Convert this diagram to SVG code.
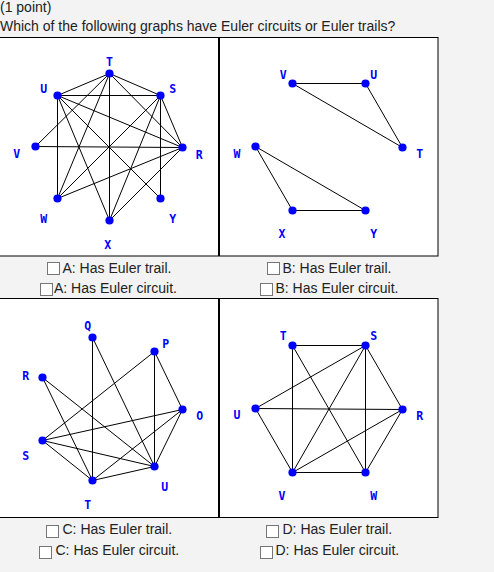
<svg xmlns="http://www.w3.org/2000/svg" width="494" height="572" viewBox="0 0 494 572">
<style>
.panel{fill:#ffffff;stroke:#000000;stroke-width:1}
.t{font-family:"Liberation Sans",Arial,sans-serif;font-size:14px;fill:#222222}
.cb{fill:#ffffff;stroke:#767676;stroke-width:1}
.e line{stroke:#000000;stroke-width:1}
.n circle{fill:#0000ff}
.lb{font-family:"DejaVu Sans Mono",monospace;font-size:11.5px;font-weight:bold;fill:#0000ff;text-anchor:middle}
</style>
<rect x="0" y="0" width="494" height="572" fill="#f3f3f3"/>
<text class="t" x="0" y="12">(1 point)</text>
<text class="t" x="0" y="31">Which of the following graphs have Euler circuits or Euler trails?</text>

<g id="panels">
<rect class="panel" x="-1.5" y="37.5" width="220" height="218.5"/>
<rect class="panel" x="219.5" y="37.5" width="218.5" height="218.5"/>
<rect class="panel" x="-1.5" y="298.5" width="220" height="219"/>
<rect class="panel" x="219.5" y="298.5" width="218.5" height="219"/>
</g>

<g id="checkboxes">
<rect class="cb" x="47.5" y="262.5" width="12" height="12"/><text class="t" x="62.5" y="273">A: Has Euler trail.</text>
<rect class="cb" x="40.5" y="283.5" width="12" height="12"/><text class="t" x="54" y="293">A: Has Euler circuit.</text>
<rect class="cb" x="267.5" y="262.5" width="12" height="12"/><text class="t" x="282.5" y="273">B: Has Euler trail.</text>
<rect class="cb" x="260.5" y="283.5" width="12" height="12"/><text class="t" x="275.5" y="293">B: Has Euler circuit.</text>
<rect class="cb" x="46.5" y="525.5" width="12" height="12"/><text class="t" x="62.5" y="534">C: Has Euler trail.</text>
<rect class="cb" x="39.5" y="546.5" width="12" height="12"/><text class="t" x="55.5" y="555">C: Has Euler circuit.</text>
<rect class="cb" x="266.5" y="525.5" width="12" height="12"/><text class="t" x="282.5" y="534">D: Has Euler trail.</text>
<rect class="cb" x="260.5" y="546.5" width="12" height="12"/><text class="t" x="275.5" y="555">D: Has Euler circuit.</text>
</g>

<g id="connectors" class="e">
<!-- Graph A -->
<line x1="109.5" y1="73.5" x2="57.5" y2="95.5"/>
<line x1="109.5" y1="73.5" x2="160.5" y2="95.5"/>
<line x1="57.5" y1="95.5" x2="160.5" y2="95.5"/>
<line x1="35.5" y1="146.5" x2="182.5" y2="147.5"/>
<line x1="109.5" y1="73.5" x2="109.5" y2="220.5"/>
<line x1="57.5" y1="95.5" x2="57.5" y2="198.5"/>
<line x1="160.5" y1="95.5" x2="160.5" y2="198.5"/>
<line x1="57.5" y1="95.5" x2="182.5" y2="147.5"/>
<line x1="57.5" y1="95.5" x2="160.5" y2="198.5"/>
<line x1="57.5" y1="95.5" x2="109.5" y2="220.5"/>
<line x1="109.5" y1="73.5" x2="35.5" y2="146.5"/>
<line x1="109.5" y1="73.5" x2="57.5" y2="198.5"/>
<line x1="109.5" y1="73.5" x2="182.5" y2="147.5"/>
<line x1="160.5" y1="95.5" x2="57.5" y2="198.5"/>
<line x1="160.5" y1="95.5" x2="109.5" y2="220.5"/>
<line x1="160.5" y1="95.5" x2="182.5" y2="147.5"/>
<line x1="182.5" y1="147.5" x2="57.5" y2="198.5"/>
<line x1="182.5" y1="147.5" x2="109.5" y2="220.5"/>
<!-- Graph B -->
<line x1="292.5" y1="83.5" x2="365.5" y2="83.5"/>
<line x1="292.5" y1="83.5" x2="402.5" y2="147.5"/>
<line x1="365.5" y1="83.5" x2="402.5" y2="147.5"/>
<line x1="255.5" y1="146.5" x2="292.5" y2="210.5"/>
<line x1="255.5" y1="146.5" x2="365.5" y2="210.5"/>
<line x1="292.5" y1="210.5" x2="365.5" y2="210.5"/>
<!-- Graph C -->
<line x1="92.5" y1="337.5" x2="92.5" y2="480.5"/>
<line x1="92.5" y1="337.5" x2="154.5" y2="466.5"/>
<line x1="154.5" y1="351.5" x2="154.5" y2="466.5"/>
<line x1="154.5" y1="351.5" x2="182.5" y2="409.5"/>
<line x1="154.5" y1="351.5" x2="42.5" y2="440.5"/>
<line x1="42.5" y1="377.5" x2="154.5" y2="466.5"/>
<line x1="42.5" y1="377.5" x2="92.5" y2="480.5"/>
<line x1="42.5" y1="440.5" x2="182.5" y2="409.5"/>
<line x1="42.5" y1="440.5" x2="154.5" y2="466.5"/>
<line x1="42.5" y1="440.5" x2="92.5" y2="480.5"/>
<line x1="92.5" y1="480.5" x2="154.5" y2="466.5"/>
<line x1="92.5" y1="480.5" x2="182.5" y2="409.5"/>
<line x1="154.5" y1="466.5" x2="182.5" y2="409.5"/>
<!-- Graph D -->
<line x1="292.5" y1="345.5" x2="365.5" y2="345.5"/>
<line x1="292.5" y1="345.5" x2="292.5" y2="472.5"/>
<line x1="292.5" y1="345.5" x2="365.5" y2="472.5"/>
<line x1="365.5" y1="345.5" x2="255.5" y2="408.5"/>
<line x1="365.5" y1="345.5" x2="292.5" y2="472.5"/>
<line x1="365.5" y1="345.5" x2="365.5" y2="472.5"/>
<line x1="365.5" y1="345.5" x2="402.5" y2="409.5"/>
<line x1="255.5" y1="408.5" x2="402.5" y2="409.5"/>
<line x1="255.5" y1="408.5" x2="292.5" y2="472.5"/>
<line x1="402.5" y1="409.5" x2="292.5" y2="472.5"/>
<line x1="402.5" y1="409.5" x2="365.5" y2="472.5"/>
<line x1="292.5" y1="472.5" x2="365.5" y2="472.5"/>
</g>

<!-- Graph A nodes -->
<g id="A-T" class="n"><circle cx="109.5" cy="73.5" r="4.1"/><text class="lb" x="109.5" y="66">T</text></g>
<g id="A-U" class="n"><circle cx="57.5" cy="95.5" r="4.1"/><text class="lb" x="43.7" y="93">U</text></g>
<g id="A-S" class="n"><circle cx="160.5" cy="95.5" r="4.1"/><text class="lb" x="172.7" y="93">S</text></g>
<g id="A-V" class="n"><circle cx="35.5" cy="146.5" r="4.1"/><text class="lb" x="16.7" y="157.5">V</text></g>
<g id="A-R" class="n"><circle cx="182.5" cy="147.5" r="4.1"/><text class="lb" x="199.3" y="158.5">R</text></g>
<g id="A-W" class="n"><circle cx="57.5" cy="198.5" r="4.1"/><text class="lb" x="43.7" y="222.5">W</text></g>
<g id="A-Y" class="n"><circle cx="160.5" cy="198.5" r="4.1"/><text class="lb" x="172.7" y="222.5">Y</text></g>
<g id="A-X" class="n"><circle cx="109.5" cy="220.5" r="4.1"/><text class="lb" x="107.7" y="249">X</text></g>

<!-- Graph B nodes -->
<g id="B-V" class="n"><circle cx="292.5" cy="83.5" r="4.1"/><text class="lb" x="283.3" y="78.5">V</text></g>
<g id="B-U" class="n"><circle cx="365.5" cy="83.5" r="4.1"/><text class="lb" x="373.7" y="78.5">U</text></g>
<g id="B-T" class="n"><circle cx="402.5" cy="147.5" r="4.1"/><text class="lb" x="419.7" y="158">T</text></g>
<g id="B-W" class="n"><circle cx="255.5" cy="146.5" r="4.1"/><text class="lb" x="237" y="157.5">W</text></g>
<g id="B-X" class="n"><circle cx="292.5" cy="210.5" r="4.1"/><text class="lb" x="282" y="237.5">X</text></g>
<g id="B-Y" class="n"><circle cx="365.5" cy="210.5" r="4.1"/><text class="lb" x="373.7" y="237.5">Y</text></g>

<!-- Graph C nodes -->
<g id="C-Q" class="n"><circle cx="92.5" cy="337.5" r="4.1"/><text class="lb" x="87.7" y="330">Q</text></g>
<g id="C-P" class="n"><circle cx="154.5" cy="351.5" r="4.1"/><text class="lb" x="165.7" y="348">P</text></g>
<g id="C-R" class="n"><circle cx="42.5" cy="377.5" r="4.1"/><text class="lb" x="25.7" y="380">R</text></g>
<g id="C-O" class="n"><circle cx="182.5" cy="409.5" r="4.1"/><text class="lb" x="199.7" y="420">O</text></g>
<g id="C-S" class="n"><circle cx="42.5" cy="440.5" r="4.1"/><text class="lb" x="25.7" y="459.5">S</text></g>
<g id="C-U" class="n"><circle cx="154.5" cy="466.5" r="4.1"/><text class="lb" x="164.7" y="491">U</text></g>
<g id="C-T" class="n"><circle cx="92.5" cy="480.5" r="4.1"/><text class="lb" x="87.7" y="509">T</text></g>

<!-- Graph D nodes -->
<g id="D-T" class="n"><circle cx="292.5" cy="345.5" r="4.1"/><text class="lb" x="283.3" y="340">T</text></g>
<g id="D-S" class="n"><circle cx="365.5" cy="345.5" r="4.1"/><text class="lb" x="373.7" y="340">S</text></g>
<g id="D-U" class="n"><circle cx="255.5" cy="408.5" r="4.1"/><text class="lb" x="237" y="419">U</text></g>
<g id="D-R" class="n"><circle cx="402.5" cy="409.5" r="4.1"/><text class="lb" x="419.7" y="420">R</text></g>
<g id="D-V" class="n"><circle cx="292.5" cy="472.5" r="4.1"/><text class="lb" x="282" y="499.5">V</text></g>
<g id="D-W" class="n"><circle cx="365.5" cy="472.5" r="4.1"/><text class="lb" x="373.7" y="499.5">W</text></g>
</svg>
